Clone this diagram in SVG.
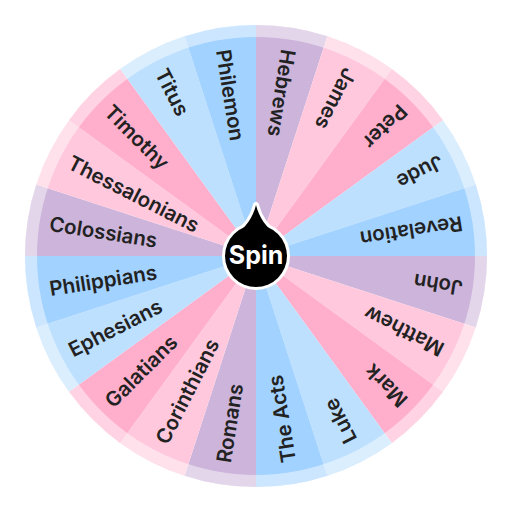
<svg xmlns="http://www.w3.org/2000/svg" width="512" height="512" viewBox="0 0 512 512">
<style>
.c1{fill:#cdb4db}.c2{fill:#ffc8dd}.c3{fill:#ffafcc}.c4{fill:#bde0fe}.c5{fill:#a2d2ff}
.lbl{font-family:Inter,"Liberation Sans",sans-serif;font-weight:600;font-size:20.5px;fill:#222;dominant-baseline:central}
</style>
<rect width="512" height="512" fill="#fff"/>
<g id="segments">
<path class="c1" d="M256,256 L256,25 A231,231 0 0 1 327.38,36.31 Z"/>
<path class="c2" d="M256,256 L327.38,36.31 A231,231 0 0 1 391.78,69.12 Z"/>
<path class="c3" d="M256,256 L391.78,69.12 A231,231 0 0 1 442.88,120.22 Z"/>
<path class="c4" d="M256,256 L442.88,120.22 A231,231 0 0 1 475.69,184.62 Z"/>
<path class="c5" d="M256,256 L475.69,184.62 A231,231 0 0 1 487,256 Z"/>
<path class="c1" d="M256,256 L487,256 A231,231 0 0 1 475.69,327.38 Z"/>
<path class="c2" d="M256,256 L475.69,327.38 A231,231 0 0 1 442.88,391.78 Z"/>
<path class="c3" d="M256,256 L442.88,391.78 A231,231 0 0 1 391.78,442.88 Z"/>
<path class="c4" d="M256,256 L391.78,442.88 A231,231 0 0 1 327.38,475.69 Z"/>
<path class="c5" d="M256,256 L327.38,475.69 A231,231 0 0 1 256,487 Z"/>
<path class="c1" d="M256,256 L256,487 A231,231 0 0 1 184.62,475.69 Z"/>
<path class="c2" d="M256,256 L184.62,475.69 A231,231 0 0 1 120.22,442.88 Z"/>
<path class="c3" d="M256,256 L120.22,442.88 A231,231 0 0 1 69.12,391.78 Z"/>
<path class="c4" d="M256,256 L69.12,391.78 A231,231 0 0 1 36.31,327.38 Z"/>
<path class="c5" d="M256,256 L36.31,327.38 A231,231 0 0 1 25,256 Z"/>
<path class="c1" d="M256,256 L25,256 A231,231 0 0 1 36.31,184.62 Z"/>
<path class="c2" d="M256,256 L36.31,184.62 A231,231 0 0 1 69.12,120.22 Z"/>
<path class="c3" d="M256,256 L69.12,120.22 A231,231 0 0 1 120.22,69.12 Z"/>
<path class="c4" d="M256,256 L120.22,69.12 A231,231 0 0 1 184.62,36.31 Z"/>
<path class="c5" d="M256,256 L184.62,36.31 A231,231 0 0 1 256,25 Z"/>
<circle cx="256" cy="256" r="225" fill="none" stroke="#fff" stroke-width="12" opacity="0.45"/>
</g>
<g id="labels">
<text class="lbl" x="-209" y="0" transform="translate(256,256) rotate(99)">Hebrews</text>
<text class="lbl" x="-209" y="0" transform="translate(256,256) rotate(117)">James</text>
<text class="lbl" x="-209" y="0" transform="translate(256,256) rotate(135)">Peter</text>
<text class="lbl" x="-209" y="0" transform="translate(256,256) rotate(153)">Jude</text>
<text class="lbl" x="-209" y="0" transform="translate(256,256) rotate(171)">Revelation</text>
<text class="lbl" x="-209" y="0" transform="translate(256,256) rotate(189)">John</text>
<text class="lbl" x="-209" y="0" transform="translate(256,256) rotate(207)">Matthew</text>
<text class="lbl" x="-209" y="0" transform="translate(256,256) rotate(225)">Mark</text>
<text class="lbl" x="-209" y="0" transform="translate(256,256) rotate(243)">Luke</text>
<text class="lbl" x="-209" y="0" transform="translate(256,256) rotate(261)">The Acts</text>
<text class="lbl" x="-209" y="0" transform="translate(256,256) rotate(279)">Romans</text>
<text class="lbl" x="-209" y="0" transform="translate(256,256) rotate(297)">Corinthians</text>
<text class="lbl" x="-209" y="0" transform="translate(256,256) rotate(315)">Galatians</text>
<text class="lbl" x="-209" y="0" transform="translate(256,256) rotate(333)">Ephesians</text>
<text class="lbl" x="-209" y="0" transform="translate(256,256) rotate(351)">Philippians</text>
<text class="lbl" x="-209" y="0" transform="translate(256,256) rotate(9)">Colossians</text>
<text class="lbl" x="-209" y="0" transform="translate(256,256) rotate(27)">Thessalonians</text>
<text class="lbl" x="-209" y="0" transform="translate(256,256) rotate(45)">Timothy</text>
<text class="lbl" x="-209" y="0" transform="translate(256,256) rotate(63)">Titus</text>
<text class="lbl" x="-209" y="0" transform="translate(256,256) rotate(81)">Philemon</text>
</g>
<g id="spin">
<g stroke="#fff" stroke-width="6" stroke-linejoin="round" fill="#fff">
<circle cx="256" cy="256" r="31"/>
<path d="M234,236 C246,228 253,217 256,205 C259,217 266,228 278,236 Z"/>
</g>
<circle cx="256" cy="256" r="31" fill="#000"/>
<path d="M234,236 C246,228 253,217 256,205 C259,217 266,228 278,236 Z" fill="#000"/>
<text x="256" y="264" text-anchor="middle" font-family="Inter,'Liberation Sans',sans-serif" font-weight="700" font-size="25" fill="#fff">Spin</text>
</g>
</svg>
